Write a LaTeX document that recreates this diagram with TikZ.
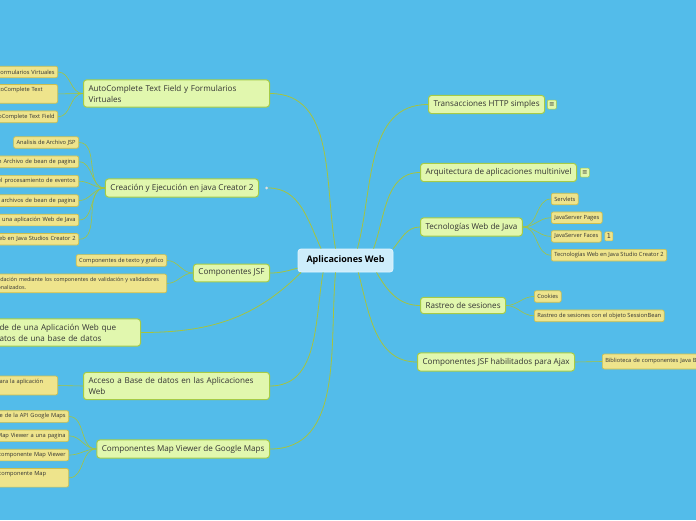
\documentclass[tikz,border=0pt]{standalone}
\usepackage{fontspec}
\setmainfont{Open Sans}
\newfontfamily\symbolfont{DejaVu Sans}
\usetikzlibrary{positioning}
\definecolor{skyback}{HTML}{53BCEA}
\definecolor{topicfill}{HTML}{E1F7AE}
\definecolor{topicdraw}{HTML}{A6CB46}
\definecolor{leaffill}{HTML}{EEE48C}
\definecolor{leafdraw}{HTML}{CDBF4E}
\definecolor{rootfill}{HTML}{CDEDFB}
\definecolor{rootdraw}{HTML}{E2F5FD}
\definecolor{linkgreen}{HTML}{A5C43F}
\definecolor{inktext}{HTML}{333333}

\begin{document}
\begin{tikzpicture}[x=1pt, y=-1pt,
rootnode/.style={rectangle, rounded corners=3pt, draw=rootdraw, fill=rootfill, line width=0.8pt, minimum width=95pt, minimum height=23pt, font=\bfseries\fontsize{9}{11}\selectfont, text=black},
topicnode/.style={rectangle, rounded corners=3pt, draw=topicdraw, fill=topicfill, line width=1pt, inner xsep=5pt, inner ysep=5pt, font=\fontsize{8.1}{11}\selectfont, text=inktext},
leafnode/.style={rectangle, rounded corners=2pt, draw=leafdraw, fill=leaffill, line width=0.7pt, inner xsep=3pt, inner ysep=3pt, minimum height=11.5pt, font=\fontsize{5.7}{8.5}\selectfont, text=inktext},
cutleaf/.style={leafnode, text width=#1, align=right},
iconnode/.style={rectangle, rounded corners=1pt, draw=topicdraw, fill=topicfill, line width=0.5pt, minimum size=9pt, inner sep=0pt, font=\symbolfont\fontsize{6.5}{6.5}\selectfont, text=inktext},
dotmark/.style={circle, fill=white!75!gray, inner sep=0pt, minimum size=3pt},
branch/.style={draw=linkgreen, line width=0.8pt},
twig/.style={draw=linkgreen, line width=0.6pt},
]
\useasboundingbox (0,0) rectangle (696,520);
\clip (0,0) rectangle (696,520);
\fill[skyback] (0,0) rectangle (696,520);

%Nodes
\node[rootnode]  (web)       at (345.5,260.5)       {Aplicaciones Web};

\node[topicnode, anchor=west] (http)    at (428,104.5) {Transacciones HTTP simples};
\node[iconnode]  (httpnote)  [right=2pt of http]    {≡};
\node[topicnode, anchor=west] (multi)   at (420,172.5) {Arquitectura de aplicaciones multinivel};
\node[iconnode]  (multinote) [right=3pt of multi]   {≡};
\node[topicnode, anchor=west] (javaweb) at (420,227)   {Tecnologías Web de Java};
\node[topicnode, anchor=west] (rastreo) at (420,305.5) {Rastreo de sesiones};
\node[topicnode, anchor=west] (ajax)    at (417,362)   {Componentes JSF habilitados para Ajax};

\node[leafnode, anchor=west] (servlets) at (551,199) {Servlets};
\node[leafnode]  (jsp)        [below=6.5pt of servlets.south west, anchor=north west] {JavaServer Pages};
\node[leafnode]  (faces)      [below=6.5pt of jsp.south west, anchor=north west]      {JavaServer Faces};
\node[iconnode, draw=leafdraw, fill=leaffill, minimum width=8pt] (facesnum) [right=3pt of faces] {1};
\node[leafnode]  (creatorweb) [below=6.5pt of faces.south west, anchor=north west]    {Tecnologías Web en Java Studio Creator 2};
\node[leafnode, anchor=west] (cookies)  at (534,296.5) {Cookies};
\node[leafnode]  (sessionbean) [below=7pt of cookies.south west, anchor=north west]   {Rastreo de sesiones con el objeto SessionBean};
\node[leafnode, anchor=west, text width=120pt, align=left, minimum height=15pt] (blueprints) at (602,361.5) {Biblioteca de componentes Java Bl};

\node[topicnode, anchor=east, text width=176pt, align=left] (autoc) at (270,93.5) {AutoComplete Text Field y Formularios\\Virtuales};
\node[topicnode, anchor=east] (crear) at (259,188) {Creación y Ejecución en java Creator 2};
\node[dotmark]   (creardot)  [right=6pt of crear] {};
\node[topicnode, anchor=east] (jsf)   at (270,273) {Componentes JSF};
\node[topicnode, anchor=east, text width=136pt, align=left] (dbapp) at (141,332.5) {de de una Aplicación Web que\\atos de una base de datos};
\node[topicnode, anchor=east, text width=176pt, align=left] (acceso) at (270,386) {Acceso a Base de datos en las Aplicaciones\\Web};
\node[topicnode, anchor=east] (maps)  at (270,449) {Componentes Map Viewer de Google Maps};

\node[cutleaf=100pt, anchor=east] (virtuales) at (58,72) {ormularios Virtuales};
\node[leafnode, text width=56pt, align=left] (actext) [below=6pt of virtuales.south east, anchor=north east] {toComplete Text\\\mbox{}};
\node[cutleaf=100pt] (acfield) [below=7pt of actext.south east, anchor=north east]    {toComplete Text Field};

\node[leafnode, anchor=east] (jspfile) at (79,142.5) {Analisis de Archivo JSP};
\node[cutleaf=100pt] (beanfile)  [below=7pt of jspfile.south east, anchor=north east]   {n Archivo de bean de pagina};
\node[cutleaf=100pt] (eventos)   [below=7pt of beanfile.south east, anchor=north east]  {el procesamiento de eventos};
\node[cutleaf=100pt] (beanfiles) [below=7pt of eventos.south east, anchor=north east]   {s archivos de bean de pagina};
\node[cutleaf=100pt] (javaapp)   [below=7pt of beanfiles.south east, anchor=north east] {r una aplicación Web de Java};
\node[cutleaf=100pt] (studios)   [below=7pt of javaapp.south east, anchor=north east]   {eb en Java Studios Creator 2};

\node[leafnode, anchor=east] (grafico) at (167,260.5) {Componentes de texto y grafico};
\node[leafnode, text width=166pt, align=left, font=\fontsize{5.4}{8.5}\selectfont] (validacion) [below=7pt of grafico.south east, anchor=north east] {lidación mediante los componentes de validación y validadores\\onalizados.};

\node[leafnode, text width=55pt, align=left, anchor=east] (conexion) at (58,385.5) {ara la aplicación\\\mbox{}};

\node[cutleaf=100pt, anchor=east] (apikey) at (69,416.5) {ve de la API Google Maps};
\node[cutleaf=100pt] (addviewer)  [below=7pt of apikey.south east, anchor=north east]     {Map Viewer a una pagina};
\node[cutleaf=100pt] (propviewer) [below=7pt of addviewer.south east, anchor=north east]  {componente Map Viewer};
\node[leafnode, text width=67pt, align=left] (mapcomp) [below=7pt of propviewer.south east, anchor=north east] {componente Map\\\mbox{}};

%Lines
\draw[branch] (web.45)  to[out=75, in=180] (http.west);
\draw[branch] (web.23)  to[out=70, in=180] (multi.west);
\draw[branch] (web.14)  to[out=50, in=180] (javaweb.west);
\draw[branch] (web.-21) to[out=-60, in=180] (rastreo.west);
\draw[branch] (web.-43) to[out=-75, in=180] (ajax.west);
\draw[branch] (web.130) to[out=100, in=0] (autoc.east);
\draw[branch] (web.154) to[out=115, in=0] (creardot.east);
\draw[branch] (web.189) to[out=195, in=0] (jsf.east);
\draw[branch] (web.195) to[out=225, in=0] (dbapp.east);
\draw[branch] (web.208) to[out=260, in=0] (acceso.east);
\draw[branch] (web.230) to[out=265, in=0] (maps.east);

\draw[twig] (javaweb.east) to[out=0, in=180] (servlets.west);
\draw[twig] (javaweb.east) to[out=0, in=180] (jsp.west);
\draw[twig] (javaweb.east) to[out=0, in=180] (faces.west);
\draw[twig] (javaweb.east) to[out=0, in=180] (creatorweb.west);
\draw[twig] (rastreo.east) to[out=0, in=180] (cookies.west);
\draw[twig] (rastreo.east) to[out=0, in=180] (sessionbean.west);
\draw[twig] (ajax.east) -- (blueprints.west);

\draw[twig] (autoc.west) to[out=180, in=0] (virtuales.east);
\draw[twig] (autoc.west) to[out=180, in=0] (actext.east);
\draw[twig] (autoc.west) to[out=180, in=0] (acfield.east);
\draw[twig] (crear.west) to[out=180, in=0] (jspfile.east);
\draw[twig] (crear.west) to[out=180, in=0] (beanfile.east);
\draw[twig] (crear.west) to[out=180, in=0] (eventos.east);
\draw[twig] (crear.west) to[out=180, in=0] (beanfiles.east);
\draw[twig] (crear.west) to[out=180, in=0] (javaapp.east);
\draw[twig] (crear.west) to[out=180, in=0] (studios.east);
\draw[twig] (jsf.west) to[out=180, in=0] (grafico.east);
\draw[twig] (jsf.west) to[out=180, in=0] (validacion.east);
\draw[twig] (acceso.west) -- (conexion.east);
\draw[twig] (maps.west) to[out=180, in=0] (apikey.east);
\draw[twig] (maps.west) to[out=180, in=0] (addviewer.east);
\draw[twig] (maps.west) to[out=180, in=0] (propviewer.east);
\draw[twig] (maps.west) to[out=180, in=0] (mapcomp.east);
\end{tikzpicture}
\end{document}
